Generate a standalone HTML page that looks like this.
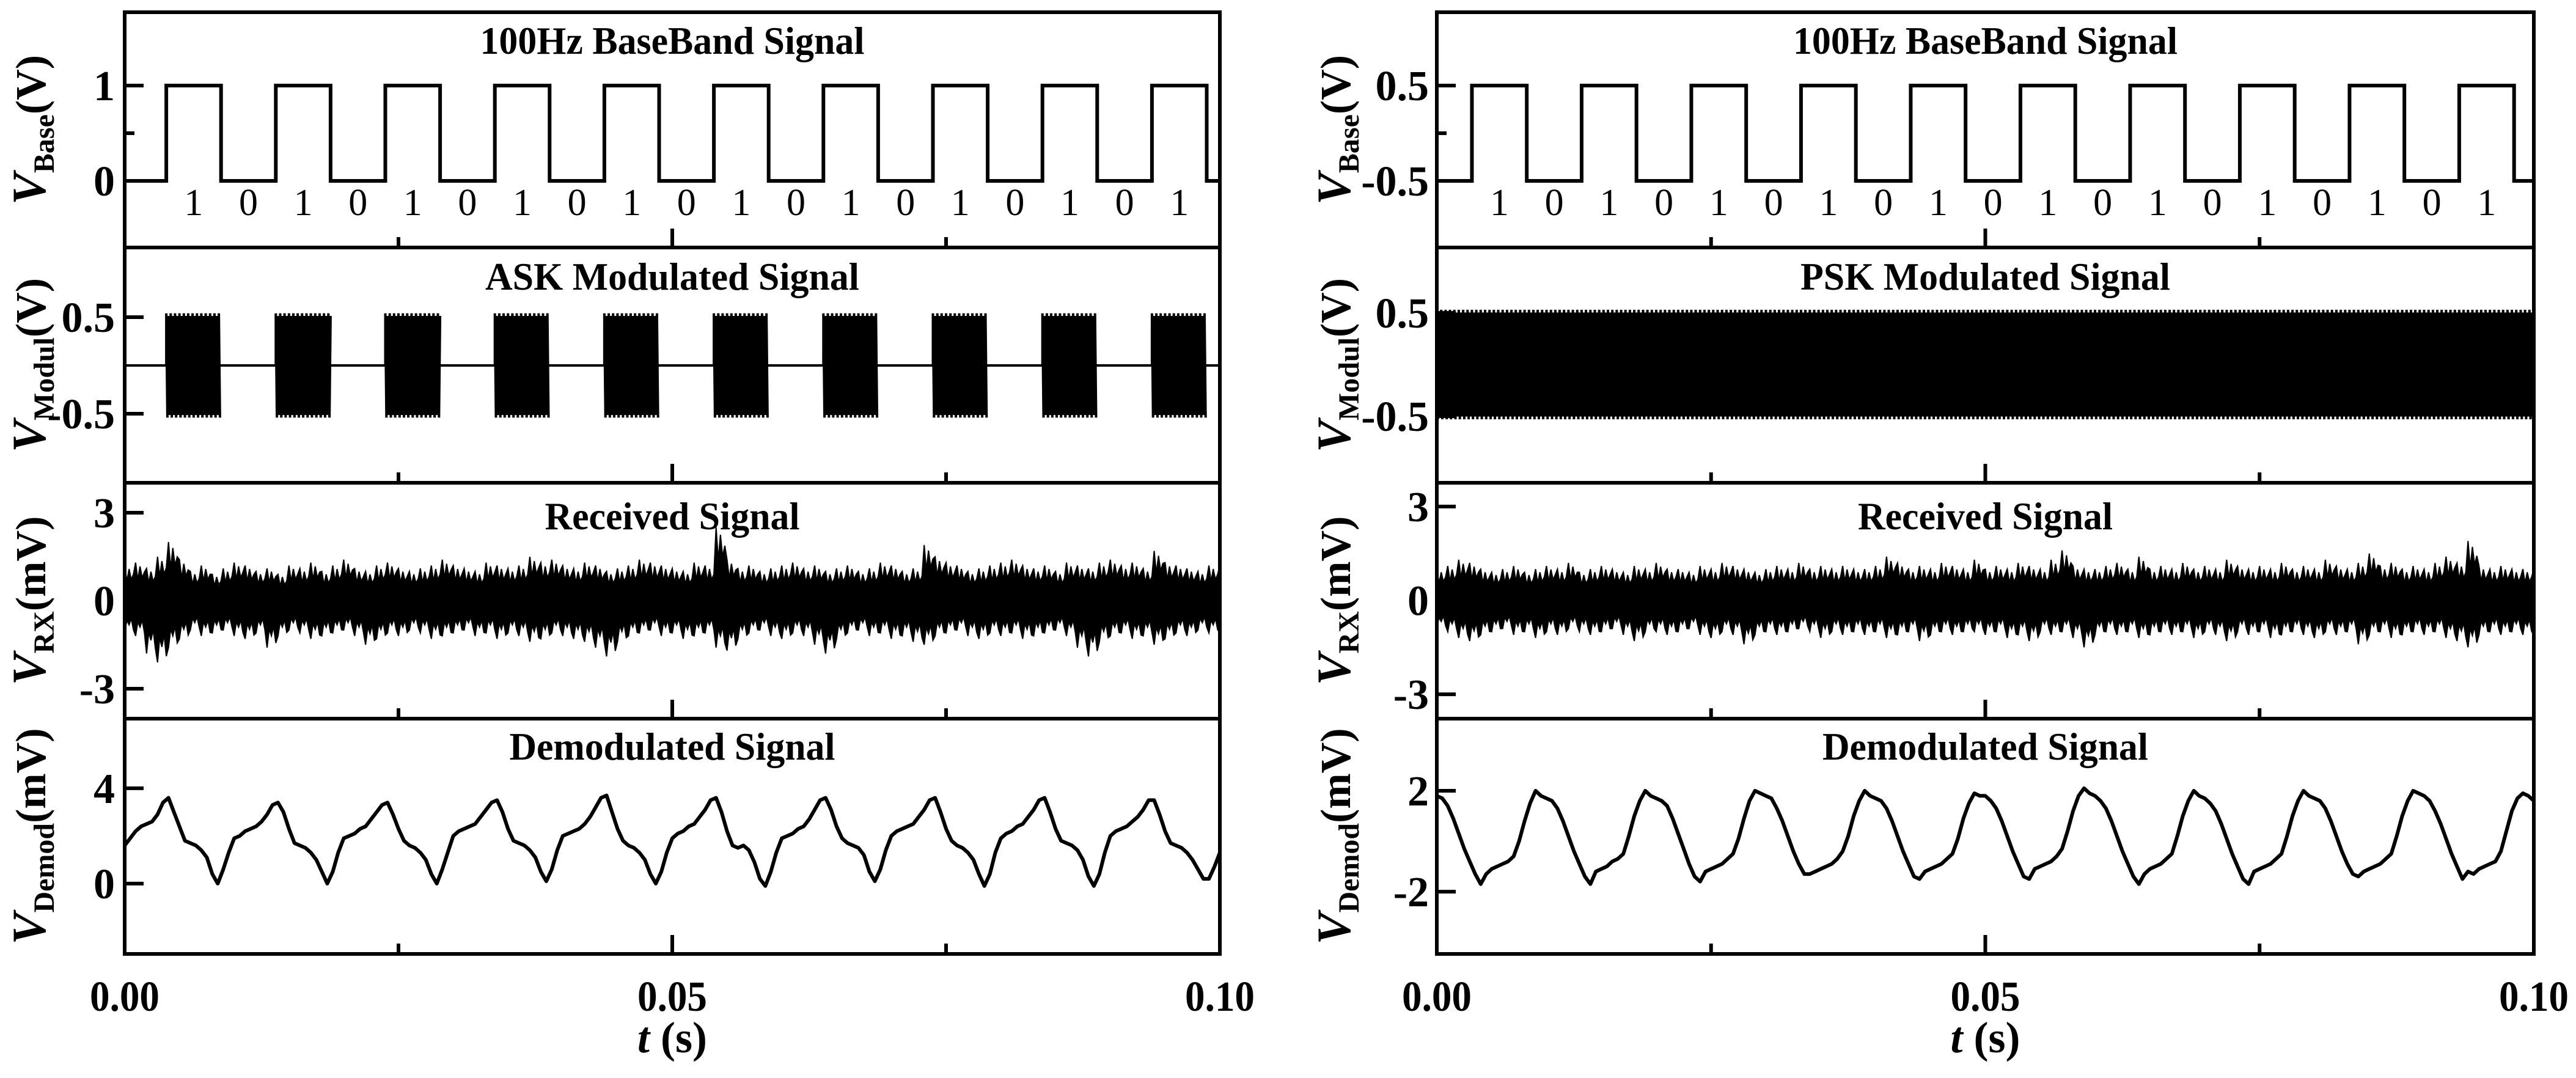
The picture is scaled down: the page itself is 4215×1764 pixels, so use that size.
<!DOCTYPE html>
<html><head><meta charset="utf-8"><title>ASK and PSK modulation signals</title>
<style>
html,body{margin:0;padding:0;background:#fff;}
svg{display:block;font-family:"Liberation Serif","Times New Roman",serif;}
svg text, svg tspan{font-family:"Liberation Serif","Times New Roman",serif !important;fill:#000;}
</style></head>
<body>
<svg id="fig" width="4215" height="1764" viewBox="0 0 4215 1764" xmlns="http://www.w3.org/2000/svg" font-family="Liberation Serif, serif"></svg>
<script>
// ---------- DATA ----------
const timeTicks = [0, 0.05, 0.10];
const timeTickLabels = ["0.00", "0.05", "0.10"];
const timeMinorTicks = [0.025, 0.075];
const bitLabels = [1,0,1,0,1,0,1,0,1,0,1,0,1,0,1,0,1,0,1];
const bitDuration = 0.005;
const leftBitStart = 0.0038;
const rightBitStart = 0.0032;
const leftBaseLevels = [0, 1];      // low, high (V)
const rightBaseLevels = [-0.5, 0.5];
const carrierHz = 5000;
const askAmplitude = 0.54;
const pskAmplitude = 0.53;
const demodStep = 0.0005; // s per sample
const leftDemod = [
1.6,1.9,2.2,2.4,2.5,2.6,2.9,3.4,3.6,3.0,2.4,1.8,1.7,1.6,1.4,1.1,0.4,0.0,0.6,1.3,
1.9,2.0,2.2,2.3,2.4,2.6,2.9,3.3,3.4,3.0,2.3,1.7,1.6,1.5,1.3,1.0,0.5,0.0,0.5,1.3,
1.9,2.0,2.1,2.3,2.4,2.7,3.0,3.3,3.4,2.9,2.3,1.8,1.6,1.5,1.3,1.0,0.4,0.0,0.6,1.3,
2.0,2.2,2.3,2.4,2.5,2.8,3.1,3.4,3.5,3.0,2.3,1.8,1.7,1.6,1.4,1.1,0.5,0.1,0.6,1.4,
2.0,2.1,2.2,2.3,2.5,2.8,3.2,3.6,3.7,3.0,2.3,1.8,1.6,1.5,1.3,1.0,0.4,0.0,0.5,1.3,
1.9,2.1,2.2,2.4,2.5,2.8,3.1,3.5,3.6,3.0,2.2,1.6,1.5,1.6,1.4,0.9,0.2,-0.1,0.5,1.3,
1.9,2.0,2.1,2.3,2.4,2.7,3.1,3.5,3.6,3.1,2.4,1.9,1.7,1.6,1.5,1.2,0.5,0.1,0.6,1.4,
2.0,2.2,2.3,2.4,2.5,2.8,3.1,3.5,3.6,3.0,2.3,1.8,1.6,1.5,1.3,1.0,0.4,-0.1,0.4,1.3,
1.9,2.1,2.2,2.4,2.5,2.8,3.1,3.5,3.6,3.0,2.3,1.8,1.7,1.6,1.4,1.0,0.3,-0.1,0.4,1.3,
2.0,2.2,2.3,2.4,2.6,2.8,3.1,3.5,3.5,2.9,2.2,1.7,1.6,1.5,1.3,1.0,0.6,0.2,0.2,0.7,
1.3];
const rightDemod = [
1.8,1.7,1.4,0.9,0.3,-0.3,-0.8,-1.3,-1.7,-1.3,-1.1,-1.0,-0.9,-0.8,-0.6,0.0,0.8,1.5,2.0,1.8,
1.7,1.6,1.3,0.8,0.2,-0.4,-0.9,-1.4,-1.7,-1.2,-1.1,-1.0,-0.8,-0.7,-0.5,0.2,1.0,1.6,2.0,1.8,
1.7,1.6,1.4,0.9,0.3,-0.3,-0.9,-1.4,-1.6,-1.2,-1.1,-1.0,-0.9,-0.7,-0.5,0.1,0.9,1.6,2.0,1.9,
1.8,1.7,1.3,0.8,0.2,-0.4,-0.9,-1.3,-1.3,-1.2,-1.1,-1.0,-0.9,-0.7,-0.4,0.2,1.0,1.6,2.0,1.8,
1.7,1.6,1.3,0.8,0.2,-0.4,-0.9,-1.4,-1.5,-1.2,-1.1,-1.0,-0.9,-0.7,-0.5,0.1,0.9,1.5,1.9,1.8,
1.8,1.6,1.3,0.8,0.2,-0.4,-0.9,-1.4,-1.5,-1.1,-1.0,-0.9,-0.8,-0.6,-0.3,0.4,1.2,1.8,2.1,1.9,
1.8,1.6,1.3,0.8,0.2,-0.4,-0.9,-1.4,-1.7,-1.3,-1.1,-1.0,-0.9,-0.7,-0.5,0.2,1.0,1.6,2.0,1.8,
1.7,1.5,1.2,0.7,0.1,-0.5,-1.0,-1.5,-1.7,-1.2,-1.1,-1.0,-0.9,-0.7,-0.5,0.2,1.0,1.6,2.0,1.8,
1.7,1.6,1.3,0.8,0.2,-0.4,-0.9,-1.3,-1.4,-1.2,-1.1,-1.0,-0.9,-0.7,-0.5,0.2,1.0,1.6,2.0,1.9,
1.8,1.6,1.2,0.7,0.1,-0.5,-1.0,-1.5,-1.2,-1.3,-1.1,-1.0,-0.9,-0.8,-0.4,0.4,1.2,1.7,1.9,1.8,
1.6];
const rxStep = 0.001; // s per envelope sample
const leftRxUpper = [
1.2,1.3,1.1,1.5,2.0,1.4,1.0,1.2,0.9,1.1, 1.3,1.2,1.0,1.1,0.9,1.2,1.1,1.3,1.0,1.2,
1.4,1.1,1.0,1.2,1.3,1.1,1.0,1.1,1.2,1.4, 1.2,1.1,1.0,1.3,1.2,1.1,1.2,1.5,1.3,1.4,
1.2,1.1,1.3,1.2,1.0,1.1,1.2,1.4,1.3,1.2, 1.1,1.0,1.3,1.2,2.5,1.4,1.1,1.2,1.0,1.1,
1.2,1.3,1.1,1.2,1.0,1.1,1.2,1.0,1.1,1.3, 1.2,1.0,1.1,1.9,1.5,1.3,1.2,1.0,1.1,1.2,
1.3,1.4,1.2,1.1,1.2,1.0,1.3,1.2,1.1,1.3, 1.4,1.2,1.3,1.1,1.7,1.3,1.2,1.1,1.0,1.2];
const leftRxLower = [
-1.1,-1.2,-1.8,-2.1,-1.6,-1.3,-1.0,-1.2,-1.1,-1.0, -1.2,-1.3,-1.1,-1.6,-1.2,-1.0,-1.1,-1.3,-1.2,-1.1,
-1.0,-1.2,-1.5,-1.3,-1.1,-1.2,-1.0,-1.1,-1.3,-1.2, -1.1,-1.0,-1.2,-1.1,-1.3,-1.1,-1.2,-1.4,-1.3,-1.1,
-1.2,-1.3,-1.4,-1.6,-1.9,-1.4,-1.2,-1.1,-1.0,-1.2, -1.1,-1.3,-1.2,-1.1,-1.6,-1.7,-1.3,-1.1,-1.0,-1.2,
-1.3,-1.1,-1.2,-1.5,-1.8,-1.3,-1.1,-1.0,-1.2,-1.1, -1.3,-1.2,-1.4,-1.5,-1.2,-1.1,-1.0,-1.2,-1.3,-1.1,
-1.2,-1.1,-1.3,-1.2,-1.1,-1.0,-1.2,-1.6,-1.9,-1.4, -1.2,-1.1,-1.3,-1.2,-1.5,-1.3,-1.1,-1.2,-1.0,-1.1];
const rightRxUpper = [
1.0,1.1,1.3,1.2,1.0,0.9,1.0,1.1,0.9,1.0, 1.1,1.0,1.2,0.9,1.0,1.1,1.0,0.9,1.1,1.0,
1.2,1.0,1.0,0.9,1.1,1.0,1.2,1.1,1.0,0.9, 1.0,1.1,1.0,1.2,1.0,1.1,1.0,1.1,1.0,1.0,
1.1,1.4,1.2,1.0,1.1,1.0,1.2,1.1,1.0,1.3, 1.0,1.1,1.0,1.2,1.1,1.0,1.3,1.6,1.1,1.0,
1.0,1.1,1.2,1.0,1.4,1.0,1.1,1.0,1.2,1.0, 1.1,1.0,1.3,1.1,1.0,1.1,1.0,1.2,1.0,1.1,
1.0,1.3,1.1,1.0,1.2,1.5,1.1,1.2,1.0,1.1, 1.0,1.2,1.4,1.2,1.9,1.1,1.0,1.1,1.0,1.0];
const rightRxLower = [
-0.9,-1.0,-1.2,-1.3,-1.1,-1.0,-0.9,-1.1,-1.0,-1.2, -1.0,-1.1,-0.9,-1.0,-1.1,-1.0,-0.9,-1.1,-1.3,-1.0,
-1.0,-1.1,-1.0,-0.9,-1.1,-1.2,-1.0,-1.1,-1.4,-1.1, -1.0,-1.1,-1.0,-0.9,-1.0,-1.2,-1.0,-1.1,-1.0,-1.1,
-1.0,-1.2,-1.1,-1.0,-1.3,-1.1,-1.0,-1.1,-1.0,-1.0, -1.1,-1.0,-1.2,-1.1,-1.3,-1.0,-1.1,-1.0,-1.2,-1.5,
-1.1,-1.0,-1.1,-1.0,-1.2,-1.1,-1.0,-1.1,-1.0,-1.2, -1.0,-1.1,-1.3,-1.0,-1.1,-1.0,-1.2,-1.1,-1.0,-1.1,
-1.2,-1.0,-1.1,-1.0,-1.4,-1.1,-1.0,-1.2,-1.1,-1.0, -1.1,-1.0,-1.2,-1.3,-1.5,-1.1,-1.0,-1.1,-1.0,-1.1];

// ---------- LAYOUT ----------
const NS = "http://www.w3.org/2000/svg";
const FONT = '"Liberation Serif", "Times New Roman", serif';
const svg = document.getElementById('fig');
const rowsY = [[20,405],[405,790],[790,1176],[1176,1561]];
const columns = [
  {side:'left', x0:204, x1:1996, labelX:188, yTitleX:50,
   rows:[
    {ymin:-0.699,ymax:1.769,ticks:[0,1],tickLabels:["0","1"],minor:[0.5],title:"100Hz BaseBand Signal",tw:629,sub:"Base",unit:"(V)"},
    {ymin:-1.215,ymax:1.222,ticks:[-0.5,0.5],tickLabels:["-0.5","0.5"],minor:[],title:"ASK Modulated Signal",tw:612,sub:"Modul",unit:"(V)"},
    {ymin:-4.02,ymax:4.02,ticks:[-3,0,3],tickLabels:["-3","0","3"],minor:[],title:"Received Signal",tw:417,sub:"RX",unit:"(mV)"},
    {ymin:-2.95,ymax:6.92,ticks:[0,4],tickLabels:["0","4"],minor:[],title:"Demodulated Signal",tw:533,sub:"Demod",unit:"(mV)"}]},
  {side:'right', x0:2351, x1:4146, labelX:2338, yTitleX:2185,
   rows:[
    {ymin:-1.199,ymax:1.269,ticks:[-0.5,0.5],tickLabels:["-0.5","0.5"],minor:[0],title:"100Hz BaseBand Signal",tw:629,sub:"Base",unit:"(V)"},
    {ymin:-1.145,ymax:1.133,ticks:[-0.5,0.5],tickLabels:["-0.5","0.5"],minor:[],title:"PSK Modulated Signal",tw:605,sub:"Modul",unit:"(V)"},
    {ymin:-3.78,ymax:3.76,ticks:[-3,0,3],tickLabels:["-3","0","3"],minor:[],title:"Received Signal",tw:417,sub:"RX",unit:"(mV)"},
    {ymin:-4.47,ymax:4.86,ticks:[-2,2],tickLabels:["-2","2"],minor:[],title:"Demodulated Signal",tw:533,sub:"Demod",unit:"(mV)"}]}
];
const titleBaselines = [88, 474, 866, 1243];
const toothFactors = [0.55, 0.9, 0.6, 0.75];

function el(tag, attrs, parent){
  const e = document.createElementNS(NS, tag);
  for (const k in attrs) e.setAttribute(k, attrs[k]);
  if (tag === 'text') e.setAttribute('font-family', FONT);
  (parent||svg).appendChild(e);
  return e;
}

columns.forEach(col => {
  const xs = t => col.x0 + (t/0.1)*(col.x1-col.x0);
  col.rows.forEach((r, ri) => {
    const [py0, py1] = rowsY[ri];
    const ys = v => py1 - (v - r.ymin)/(r.ymax - r.ymin)*(py1-py0);
    const g = el('g', {});
    
    

    const cid = 'clip-' + col.side + ri;
    const cp = el('clipPath', {id:cid}, g);
    el('rect', {x:col.x0, y:py0, width:col.x1-col.x0, height:py1-py0}, cp);
    const plot = el('g', {'clip-path':'url(#'+cid+')'}, g);
    
    

    const lows = col.side==='left' ? leftBaseLevels : rightBaseLevels;
    const bstart = col.side==='left' ? leftBitStart : rightBitStart;

    if (ri === 0) {
      let d = 'M' + xs(0) + ' ' + ys(lows[0]);
      bitLabels.forEach((b, i) => {
        const t = bstart + i*bitDuration;
        const prev = i===0 ? 0 : bitLabels[i-1];
        d += ' L' + xs(t) + ' ' + ys(lows[prev]) + ' L' + xs(t) + ' ' + ys(lows[b]);
      });
      const tend = bstart + bitLabels.length*bitDuration;
      d += ' L' + xs(tend) + ' ' + ys(lows[bitLabels[bitLabels.length-1]]) + ' L' + xs(tend) + ' ' + ys(lows[0]) + ' L' + xs(0.1) + ' ' + ys(lows[0]);
      const p = el('path', {d:d, fill:'none', stroke:'#000', 'stroke-width':6, 'stroke-linejoin':'miter'}, plot);
      
      
      bitLabels.forEach((b, i) => {
        const t = bstart + (i+0.5)*bitDuration;
        const tx = el('text', {x:xs(t), y:352, 'font-size':62, 'text-anchor':'middle'}, g);
        tx.textContent = String(b);
        
        
      });
    } else if (ri === 1) {
      const halfT = 0.5/carrierHz;
      let d = '';
      if (col.side === 'left') {
        d = 'M' + xs(0) + ' ' + ys(0) + ' L' + xs(0.1) + ' ' + ys(0);
        bitLabels.forEach((b, i) => {
          if (!b) return;
          const t0 = bstart + i*bitDuration, t1 = t0 + bitDuration;
          let k = 0;
          d += ' M' + xs(t0) + ' ' + ys(0);
          for (let t = t0; t <= t1; t += halfT) {
            const a = askAmplitude * (k%4 < 2 ? 1 : 0.95);
            d += ' L' + xs(t).toFixed(1) + ' ' + ys(k%2 ? -a : a).toFixed(1);
            k++;
          }
        });
      } else {
        let k = 0;
        d = 'M' + xs(0) + ' ' + ys(0);
        for (let t = 0; t <= 0.1 + halfT; t += halfT) {
          const a = pskAmplitude * (k%4 < 2 ? 1 : 0.95);
          d += ' L' + xs(t).toFixed(1) + ' ' + ys(k%2 ? -a : a).toFixed(1);
          k++;
        }
      }
      const p = el('path', {d:d, fill:'none', stroke:'#000', 'stroke-width':4}, plot);
      
      
    } else if (ri === 2) {
      const up = col.side==='left' ? leftRxUpper : rightRxUpper;
      const lo = col.side==='left' ? leftRxLower : rightRxLower;
      const n = toothFactors.length;
      let pts = [];
      for (let i = 0; i < up.length; i++) {
        pts.push([xs(i*rxStep), ys(up[i])]);
        for (let j = 0; j < n; j++) {
          const t = (i + (j+1)/(n+1))*rxStep;
          pts.push([xs(t), ys(toothFactors[j]*up[i])]);
        }
      }
      pts.push([xs(0.1), ys(up[up.length-1])]);
      pts.push([xs(0.1), ys(lo[lo.length-1])]);
      for (let i = lo.length-1; i >= 0; i--) {
        for (let j = n-1; j >= 0; j--) {
          const t = (i + (j+1)/(n+1))*rxStep;
          pts.push([xs(t), ys(toothFactors[(j+2)%n]*lo[i])]);
        }
        pts.push([xs(i*rxStep), ys(lo[i])]);
      }
      const p = el('polygon', {points: pts.map(q => q[0].toFixed(1)+','+q[1].toFixed(1)).join(' '), fill:'#000', stroke:'#000', 'stroke-width':2}, plot);
      
      
    } else {
      const arr = col.side==='left' ? leftDemod : rightDemod;
      const d = arr.map((v, i) => (i ? 'L' : 'M') + xs(i*demodStep).toFixed(1) + ' ' + ys(v).toFixed(1)).join(' ');
      const p = el('path', {d:d, fill:'none', stroke:'#000', 'stroke-width':6, 'stroke-linejoin':'round'}, plot);
      
      
    }

    r.ticks.forEach((v, i) => {
      el('line', {x1:col.x0, x2:col.x0+31, y1:ys(v), y2:ys(v), stroke:'#000', 'stroke-width':6}, g);
      const tx = el('text', {x:col.labelX, y:ys(v)+24, 'font-size':70, 'font-weight':'bold', 'text-anchor':'end'}, g);
      tx.textContent = r.tickLabels[i];
      
      
    });
    r.minor.forEach(v => {
      el('line', {x1:col.x0, x2:col.x0+16, y1:ys(v), y2:ys(v), stroke:'#000', 'stroke-width':6}, g);
    });
    el('line', {x1:xs(0.05), x2:xs(0.05), y1:py1, y2:py1-31, stroke:'#000', 'stroke-width':6}, g);
    timeMinorTicks.forEach(t => {
      el('line', {x1:xs(t), x2:xs(t), y1:py1, y2:py1-17, stroke:'#000', 'stroke-width':6}, g);
    });
    const fr = el('rect', {x:col.x0, y:py0, width:col.x1-col.x0, height:py1-py0, fill:'none', stroke:'#000', 'stroke-width':6}, g);
    
    
    const ti = el('text', {x:(col.x0+col.x1)/2, y:titleBaselines[ri], 'font-size':64, 'font-weight':'bold', 'text-anchor':'middle', textLength:r.tw, lengthAdjust:'spacingAndGlyphs'}, g);
    ti.textContent = r.title;
    
    
    const cy = (py0+py1)/2;
    const yt = el('text', {x:0, y:0, 'font-size':70, 'font-weight':'bold', 'text-anchor':'middle', transform:'translate('+(col.yTitleX+24)+','+cy+') rotate(-90)'}, g);
    
    
    const s1 = el('tspan', {'font-style':'italic', 'font-size':78}, yt); s1.textContent = 'V';
    const s2 = el('tspan', {'font-size':48, dy:14}, yt); s2.textContent = r.sub;
    const s3 = el('tspan', {dy:-14}, yt); s3.textContent = r.unit;
  });

  timeTicks.forEach((t, i) => {
    const tx = el('text', {x:xs(t), y:1654, 'font-size':70, 'font-weight':'bold', 'text-anchor':'middle', textLength:114, lengthAdjust:'spacingAndGlyphs'});
    tx.textContent = timeTickLabels[i];
    
    
  });
  const xt = el('text', {x:(col.x0+col.x1)/2, y:1722, 'font-size':72, 'font-weight':'bold', 'text-anchor':'middle'});
  
  
  const a = el('tspan', {'font-style':'italic'}, xt); a.textContent = 't';
  const b = el('tspan', {}, xt); b.textContent = ' (s)';
});
</script>
</body></html>
